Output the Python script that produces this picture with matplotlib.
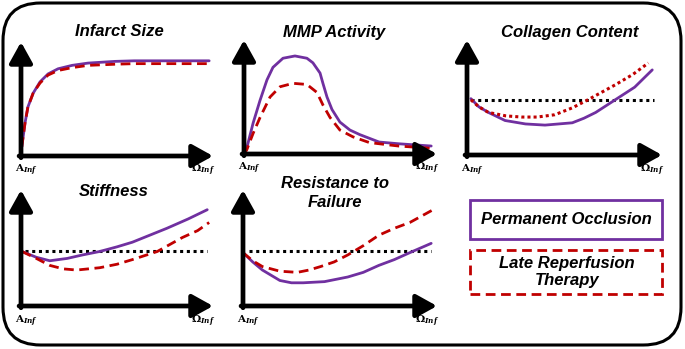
import matplotlib.pyplot as plt
from matplotlib.patches import FancyBboxPatch, Rectangle

# curves, x and y both normalised to the axis arrows (0..1)
infarct_x = [0.004, 0.021, 0.036, 0.063, 0.099, 0.141, 0.193, 0.266, 0.349, 0.49, 0.59, 0.75, 0.98]
infarct_po = [0.08, 0.29, 0.43, 0.55, 0.65, 0.72, 0.765, 0.795, 0.815, 0.83, 0.835, 0.835, 0.835]
infarct_lr = [0.08, 0.29, 0.43, 0.55, 0.64, 0.71, 0.75, 0.775, 0.795, 0.805, 0.81, 0.81, 0.81]

mmp_x_po = [0.0, 0.014, 0.047, 0.083, 0.119, 0.15, 0.202, 0.264, 0.326, 0.357, 0.394, 0.409, 0.43,
            0.456, 0.497, 0.549, 0.60, 0.70, 0.80, 0.97]
mmp_po = [0.0, 0.05, 0.27, 0.47, 0.65, 0.76, 0.84, 0.86, 0.84, 0.80, 0.71, 0.62, 0.50,
          0.39, 0.28, 0.21, 0.17, 0.105, 0.09, 0.07]
mmp_x_lr = [0.0, 0.014, 0.047, 0.083, 0.135, 0.187, 0.254, 0.326, 0.378, 0.409, 0.446, 0.497, 0.565,
            0.65, 0.80, 0.97]
mmp_lr = [0.0, 0.035, 0.18, 0.32, 0.50, 0.59, 0.62, 0.61, 0.54, 0.43, 0.32, 0.21, 0.15,
          0.10, 0.07, 0.05]

coll_x_po = [0.02, 0.06, 0.11, 0.195, 0.30, 0.40, 0.54, 0.60, 0.66, 0.76, 0.86, 0.95]
coll_po = [0.49, 0.42, 0.37, 0.30, 0.27, 0.26, 0.28, 0.32, 0.37, 0.48, 0.59, 0.74]
coll_x_lr = [0.02, 0.06, 0.11, 0.20, 0.28, 0.36, 0.45, 0.54, 0.62, 0.76, 0.85, 0.93]
coll_lr = [0.48, 0.42, 0.37, 0.34, 0.33, 0.33, 0.35, 0.41, 0.48, 0.61, 0.70, 0.80]
coll_base = 0.48

stiff_x_po = [0.005, 0.08, 0.15, 0.24, 0.32, 0.41, 0.50, 0.58, 0.67, 0.76, 0.87, 0.97]
stiff_po = [0.47, 0.42, 0.39, 0.41, 0.44, 0.47, 0.51, 0.55, 0.61, 0.67, 0.75, 0.83]
stiff_x_lr = [0.005, 0.08, 0.15, 0.22, 0.29, 0.41, 0.50, 0.58, 0.71, 0.84, 0.92, 0.98]
stiff_lr = [0.47, 0.41, 0.35, 0.32, 0.31, 0.33, 0.36, 0.40, 0.47, 0.59, 0.65, 0.72]
stiff_base = 0.47

resist_x_po = [0.0, 0.05, 0.10, 0.19, 0.25, 0.31, 0.42, 0.54, 0.62, 0.70, 0.78, 0.86, 0.97]
resist_po = [0.46, 0.38, 0.31, 0.22, 0.20, 0.20, 0.21, 0.25, 0.29, 0.35, 0.40, 0.46, 0.54]
resist_x_lr = [0.0, 0.05, 0.10, 0.19, 0.28, 0.34, 0.40, 0.47, 0.54, 0.62, 0.70, 0.78, 0.86, 0.98]
resist_lr = [0.46, 0.39, 0.34, 0.30, 0.29, 0.31, 0.34, 0.38, 0.44, 0.52, 0.61, 0.67, 0.72, 0.83]
resist_base = 0.47

titles = ['Infarct Size', 'MMP Activity', 'Collagen Content', 'Stiffness', 'Resistance to\nFailure']
legend_labels = ['Permanent Occlusion', 'Late Reperfusion\nTherapy']

PURPLE = '#7030A0'
RED = '#C00000'
W, H = 685, 349

fig = plt.figure(figsize=(W / 100, H / 100), dpi=100)
plt.rcParams['mathtext.fontset'] = 'dejavuserif'


def fx(x):
    return x / W


def fy(y):
    return 1 - y / H


def panel(x0, y0, x1, y1):
    # x0,y0 = origin (pixels), x1 = x arrow tip, y1 = y arrow tip
    ax = fig.add_axes([fx(x0), fy(y0), (x1 - x0) / W, (y0 - y1) / H])
    ax.set_xlim(0, 1)
    ax.set_ylim(0, 1)
    ax.axis('off')
    arrow = dict(arrowstyle='-|>,head_length=0.9,head_width=0.5', lw=3.4, color='black',
                 shrinkA=0, shrinkB=0, mutation_scale=14)
    ax.annotate('', xy=(1, 0), xytext=(-0.01, 0), xycoords='axes fraction',
                arrowprops=arrow, annotation_clip=False)
    ax.annotate('', xy=(0, 1), xytext=(0, -0.015), xycoords='axes fraction',
                arrowprops=arrow, annotation_clip=False)
    ax.text(0.03, -0.13, r'$\mathbf{A}_{\boldsymbol{Inf}}$', transform=ax.transAxes,
            ha='center', va='center', fontsize=7.5)
    ax.text(0.95, -0.13, r'$\mathbf{\Omega}_{\boldsymbol{Inf}}$', transform=ax.transAxes,
            ha='center', va='center', fontsize=7.5)
    return ax


po_kw = dict(color=PURPLE, lw=2.0, solid_capstyle='round', solid_joinstyle='round', clip_on=False)
lr_kw = dict(color=RED, lw=2.0, ls=(0, (3.5, 2)), clip_on=False)
base_kw = dict(color='black', lw=2.2, ls=(0, (1, 1.2)), clip_on=False)

ax1 = panel(21, 156, 213, 42)
ax1.plot(infarct_x, infarct_po, **po_kw)
ax1.plot(infarct_x, infarct_lr, **lr_kw)

ax2 = panel(244, 154, 437, 40)
ax2.plot(mmp_x_po, mmp_po, **po_kw)
ax2.plot(mmp_x_lr, mmp_lr, **lr_kw)

ax3 = panel(467, 155, 662, 40)
ax3.plot([0.02, 0.96], [coll_base, coll_base], **base_kw)
ax3.plot(coll_x_po, coll_po, **po_kw)
ax3.plot(coll_x_lr, coll_lr, color=RED, lw=2.2, ls=(0, (1, 1)), clip_on=False)

ax4 = panel(21, 306, 213, 190)
ax4.plot([0.02, 0.97], [stiff_base, stiff_base], **base_kw)
ax4.plot(stiff_x_po, stiff_po, **po_kw)
ax4.plot(stiff_x_lr, stiff_lr, **lr_kw)

ax5 = panel(243, 306, 437, 190)
ax5.plot([0.03, 0.97], [resist_base, resist_base], **base_kw)
ax5.plot(resist_x_po, resist_po, **po_kw)
ax5.plot(resist_x_lr, resist_lr, **lr_kw)

title_kw = dict(ha='center', va='center', fontsize=12, fontweight='bold',
                fontstyle='italic', family='Liberation Sans')
fig.text(fx(119), fy(32), titles[0], **title_kw)
fig.text(fx(334), fy(32), titles[1], **title_kw)
fig.text(fx(570), fy(32), titles[2], **title_kw)
fig.text(fx(114), fy(192), titles[3], **title_kw)
fig.text(fx(335), fy(193), titles[4], linespacing=1.3, **title_kw)

# legend boxes
fig.patches.append(Rectangle((fx(470), fy(239)), (662 - 470) / W, 39 / H, transform=fig.transFigure,
                             fill=False, ec=PURPLE, lw=2.0))
fig.patches.append(Rectangle((fx(470), fy(294)), (662 - 470) / W, 44 / H, transform=fig.transFigure,
                             fill=False, ec=RED, lw=2.0, ls=(0, (3.5, 2))))
fig.text(fx(566), fy(220), legend_labels[0], **title_kw)
fig.text(fx(567), fy(272), legend_labels[1], linespacing=1.2, **title_kw)

# outer rounded frame
fig.patches.append(FancyBboxPatch((fx(3), fy(345)), (681 - 3) / W, (345 - 3) / H,
                                  boxstyle='round,pad=0,rounding_size=0.055',
                                  transform=fig.transFigure, fill=False, ec='black', lw=2.2,
                                  mutation_aspect=W / H))

fig.savefig('out.png', dpi=100)
